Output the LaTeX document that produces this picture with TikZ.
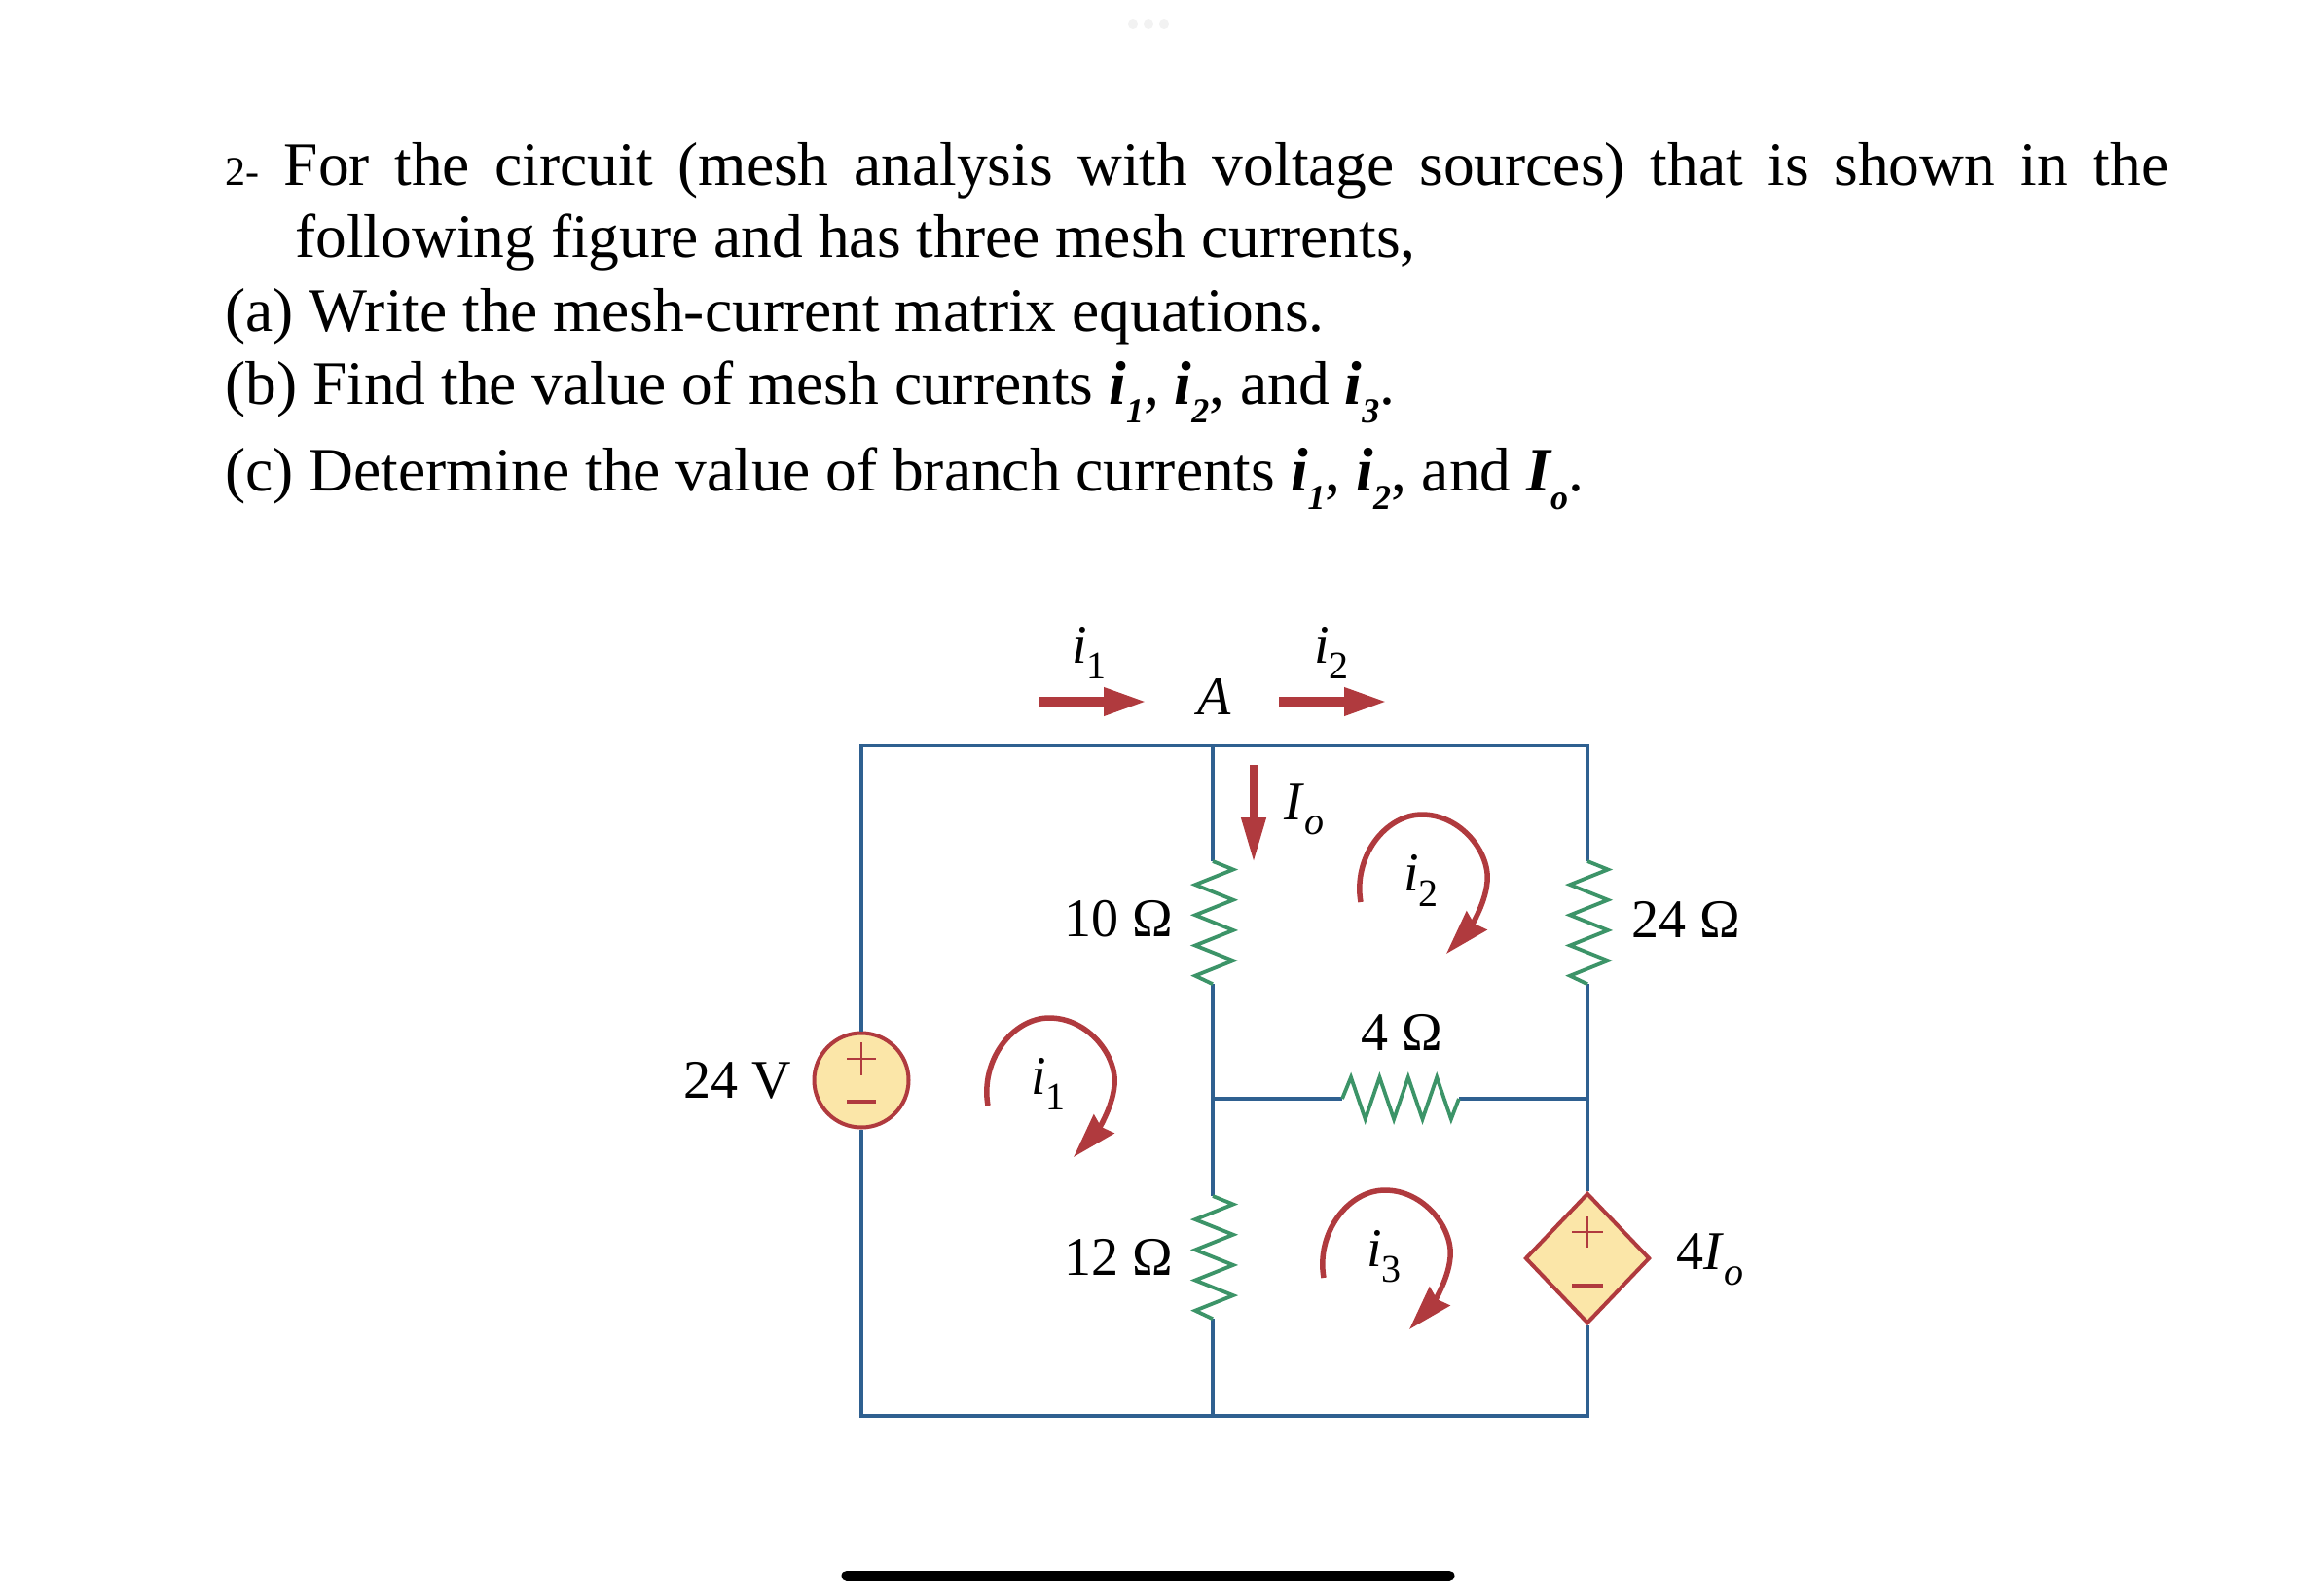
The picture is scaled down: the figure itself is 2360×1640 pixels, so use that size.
\documentclass[tikz,border=0pt]{standalone}
\usepackage{fontspec}
\setmainfont{Liberation Serif}
\usetikzlibrary{arrows.meta,shapes.geometric}
\definecolor{wireblue}{HTML}{2F6090}
\definecolor{resgreen}{HTML}{3C9468}
\definecolor{flowred}{HTML}{B03A3E}
\definecolor{srcfill}{HTML}{FBE6A8}
\newcommand{\subdn}[1]{\raisebox{-.28em}{\fontsize{40}{40}\selectfont #1}}
\newcommand{\bsub}[2]{{\bfseries\itshape #1\raisebox{-.3em}{\fontsize{36}{36}\selectfont #2}}}
\newcommand{\vzig}[1]{\draw[res] (#1) -- ++(21,8.5) \foreach \k in {1,2,3}{ -- ++(-39,15.6) -- ++(39,15.6)} -- ++(-39,15.6) -- ++(18,8.5);}
\tikzset{
  wire/.style={draw=wireblue,line width=4.6pt},
  res/.style={draw=resgreen,line width=3.8pt,line join=miter},
  prob/.style={font=\fontsize{63.5}{70}\selectfont,anchor=base west,inner sep=0pt},
  lab/.style={font=\fontsize{56}{60}\selectfont,inner sep=0pt},
  srcplus/.style={draw=flowred,line width=2.4pt},
  srcminus/.style={draw=flowred,line width=3.6pt},
  flow/.style={draw=flowred,line width=9.5pt,-{Triangle[length=44pt,width=27pt]},flowred},
  meshloop/.style={draw=flowred,line width=5.5pt,-{Stealth[length=46pt,width=28pt,inset=4pt]},flowred},
}
\begin{document}
\begin{tikzpicture}[x=1pt,y=-1pt]
  \useasboundingbox (0,0) rectangle (2360,1640);

  \foreach \x in {1164,1180,1196}
    \fill [black!5] (\x,25) circle (5);
  \draw [line width=11pt,line cap=round] (870,1619) -- (1489,1619);

  \node[prob] (line1) at (231,190) {\hbox to 1997pt{{\fontsize{42}{42}\selectfont 2-} For the circuit (mesh analysis with voltage sources) that is shown in the}};
  \node[prob] (line2) at (303,264) {following figure and has three mesh currents,};
  \node[prob] (line3) at (231,340) {(a) Write the mesh-current matrix equations.};
  \node[prob] (line4) at (231,415) {(b) Find the value of mesh currents \bsub{i}{1}, \bsub{i}{2}, and \bsub{i}{3}.};
  \node[prob] (line5) at (231,504) {(c) Determine the value of branch currents \bsub{i}{1}, \bsub{i}{2}, and \bsub{I}{o}.};

  \coordinate (tl) at (885,766);
  \coordinate (a) at (1246,766);
  \coordinate (tr) at (1631,766);
  \coordinate (bl) at (885,1455);
  \coordinate (bm) at (1246,1455);
  \coordinate (br) at (1631,1455);
  \coordinate (m) at (1246,1129);
  \coordinate (mr) at (1631,1129);
  \coordinate (r10t) at (1246,885);
  \coordinate (r10b) at (1246,1011);
  \coordinate (r24t) at (1631,885);
  \coordinate (r24b) at (1631,1011);
  \coordinate (r12t) at (1246,1229);
  \coordinate (r12b) at (1246,1355);
  \coordinate (r4l) at (1379,1129);
  \coordinate (r4r) at (1499,1129);

  \node[circle,draw=flowred,fill=srcfill,line width=4pt,minimum size=97pt,inner sep=0pt] (vs) at (885,1110) {};
  \node[diamond,draw=flowred,fill=srcfill,line width=4pt,minimum width=128pt,minimum height=134pt,inner sep=0pt] (ds) at (1631,1293) {};

  \draw[wire] (vs) -- (tl) -- (tr) -- (r24t);
  \draw[wire] (vs) -- (bl) -- (br) -- (ds);
  \draw[wire] (a) -- (r10t);
  \draw[wire] (r10b) -- (r12t);
  \draw[wire] (r12b) -- (bm);
  \draw[wire] (r24b) -- (ds);
  \draw[wire] (m) -- (r4l);
  \draw[wire] (r4r) -- (mr);

  \vzig{r10t}
  \vzig{r24t}
  \vzig{r12t}
  \draw[res] (r4l) -- ++(9,-22) \foreach \k in {1,2,3}{ -- ++(14.7,43) -- ++(14.7,-43)} -- ++(14.7,43) -- ++(8,-21);

  \draw[srcplus] (870,1088) -- (900,1088);
  \draw[srcplus] (885,1071) -- (885,1105);
  \draw[srcminus] (870,1132) -- (900,1132);
  \draw[srcplus] (1615,1266) -- (1647,1266);
  \draw[srcplus] (1631,1250) -- (1631,1282);
  \draw[srcminus] (1615,1321) -- (1647,1321);

  \draw[flow] (1067,721) -- (1178,721);
  \draw[flow] (1314,721) -- (1425,721);
  \draw[draw=flowred,line width=7.5pt,-{Triangle[length=46pt,width=24pt]},flowred] (1288,786) -- (1288,886);

  \foreach \mx/\my/\n in {0/0/1,383/-209/2,345/177/3}{
    \begin{scope}[shift={(\mx,\my)}]
      \draw[meshloop] (1015,1136) .. controls (1007,1090) and (1040,1046) .. (1078,1046)
        .. controls (1118,1046) and (1148,1085) .. (1145,1115)
        .. controls (1143,1140) and (1125,1165) .. (1103,1189);
      \node[lab] (mesh\n) at (1077,1114) {\textit{i}\subdn{\n}};
    \end{scope}
  }

  \node[lab] (flow1) at (1119,671) {\textit{i}\subdn{1}};
  \node[lab] (flow2) at (1368,671) {\textit{i}\subdn{2}};
  \node[lab] (nodeA) at (1248,716) {\textit{A}};
  \node[lab] (io) at (1340,832) {\textit{I}\subdn{\textit{o}}};
  \node[lab] (l10) at (1149,944) {10 Ω};
  \node[lab] (l24) at (1732,945) {24 Ω};
  \node[lab] (l4) at (1440,1061) {4 Ω};
  \node[lab] (l12) at (1149,1292) {12 Ω};
  \node[lab] (lv) at (758,1110) {24 V};
  \node[lab] (lds) at (1757,1294) {4\textit{I}\subdn{\textit{o}}};
\end{tikzpicture}
\end{document}
